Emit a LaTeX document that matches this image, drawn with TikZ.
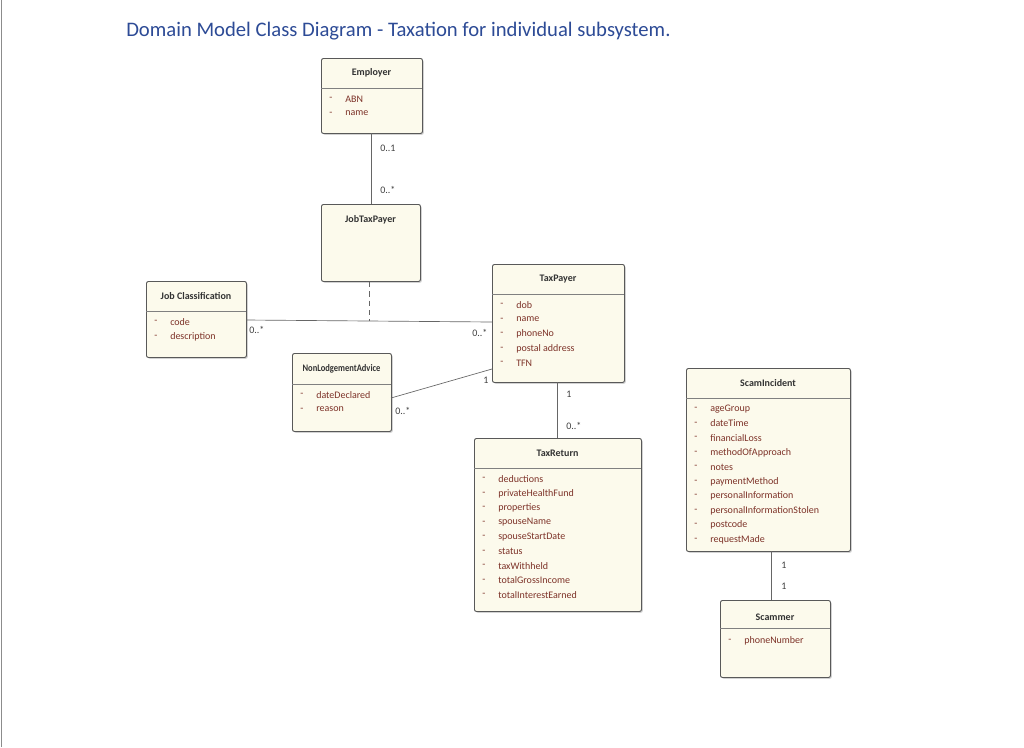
\documentclass[tikz,border=0pt]{standalone}
\usepackage{fontspec}
\setmainfont{Carlito}
\usetikzlibrary{shadows}
\definecolor{boxfill}{RGB}{252,250,236}
\definecolor{attr}{RGB}{125,50,40}
\definecolor{ttl}{RGB}{45,75,150}
\tikzset{
 umlbox/.style={draw=black!65,fill=boxfill,rounded corners=1.5pt,line width=0.7pt,anchor=north west,inner sep=0pt,drop shadow={shadow xshift=1pt,shadow yshift=-1pt,opacity=0.35}},
 cname/.style={font=\fontsize{7.5}{9}\selectfont\bfseries,text=black!80},
 attrtxt/.style={font=\fontsize{7.5}{9}\selectfont,text=attr,anchor=west,inner sep=0pt},
 mult/.style={font=\fontsize{7.5}{9}\selectfont,text=black!75,anchor=west,inner sep=0pt},
 conn/.style={draw=black!60,line width=0.5pt}
}
\newcommand{\mkbox}[7]{% name, x1,y1,x2,y2, title y, title
 \node[umlbox,minimum width={(#4-#2)*0.75pt},minimum height={(#5-#3)*0.75pt}] (#1) at (#2,#3) {};
 \node[cname] (#1t) at ({(#2+#4)/2},{(#3+#6)/2}) {#7};
}
\newcommand{\mkdiv}[3]{\draw[black!50,line width=0.5pt] (#1,#3) -- (#2,#3);}
\newcommand{\attrs}[3]{% x, y start, list
 \foreach \t [count=\i] in {#3} {
  \node[attrtxt] at ({#1+8},{#2+(\i-1)*14.5}) {-};
  \node[attrtxt] at ({#1+24},{#2+(\i-1)*14.5}) {\t};
 }}
\begin{document}
\begin{tikzpicture}[x=0.75pt,y=-0.75pt]
\useasboundingbox[fill=white] (0,0) rectangle (1024,747);
\draw[black!45] (1.5,0) -- (1.5,747);
\node[anchor=west,text=ttl,font=\fontsize{15.5}{18}\selectfont,inner sep=0pt] (title) at (126,31) {Domain Model Class Diagram - Taxation for individual subsystem.};
% boxes
\mkbox{emp}{321}{58}{422}{133}{88}{Employer}
\mkdiv{321}{422}{88}
\attrs{321}{99}{ABN,name}
\mkbox{jtp}{321}{204}{420}{281}{236}{JobTaxPayer}
\mkbox{jc}{146}{281}{246}{357}{311}{Job Classification}
\mkdiv{146}{246}{311}
\attrs{146}{322}{code,description}
\mkbox{tp}{492}{264}{624}{382}{294}{TaxPayer}
\mkdiv{492}{624}{294}
\attrs{492}{305}{dob,name,phoneNo,postal address,TFN}
\mkbox{nla}{292}{353}{391}{431}{384}{\scalebox{0.85}[1]{NonLodgementAdvice}}
\mkdiv{292}{391}{384}
\attrs{292}{395}{dateDeclared,reason}
\mkbox{tr}{474}{438}{641}{611}{468}{TaxReturn}
\mkdiv{474}{641}{468}
\attrs{474}{479}{deductions,privateHealthFund,properties,spouseName,spouseStartDate,status,taxWithheld,totalGrossIncome,totalInterestEarned}
\mkbox{si}{686}{368}{850}{551}{398}{ScamIncident}
\mkdiv{686}{850}{398}
\attrs{686}{409}{ageGroup,dateTime,financialLoss,methodOfApproach,notes,paymentMethod,personalInformation,personalInformationStolen,postcode,requestMade}
\mkbox{sc}{720}{600}{830}{677}{634}{Scammer}
\mkdiv{720}{830}{628}
\attrs{720}{641}{phoneNumber}
% connectors
\coordinate (e1) at (371,133); \coordinate (e2) at (371,204);
\draw[conn] (e1) -- (e2);
\node[mult] at (380,148) {0..1};
\node[mult] at (380,190) {0..*};
\coordinate (a1) at (246,320); \coordinate (a2) at (492,322); \coordinate (am) at (369,321);
\draw[conn] (a1) -- (a2);
\coordinate (d1) at (369,282);
\draw[conn,dash pattern=on 4pt off 3pt] (d1) -- (am);
\node[mult] at (249,330) {0..*};
\node[mult] at (472,333) {0..*};
\coordinate (n1) at (391,398); \coordinate (n2) at (492,369);
\draw[conn] (n1) -- (n2);
\node[mult] at (483,380) {1};
\node[mult] at (395,411) {0..*};
\coordinate (t1) at (557,382); \coordinate (t2) at (557,438);
\draw[conn] (t1) -- (t2);
\node[mult] at (566,394) {1};
\node[mult] at (566,426) {0..*};
\coordinate (s1) at (771,551); \coordinate (s2) at (771,600);
\draw[conn] (s1) -- (s2);
\node[mult] at (781,565) {1};
\node[mult] at (781,586) {1};
\end{tikzpicture}
\end{document}
